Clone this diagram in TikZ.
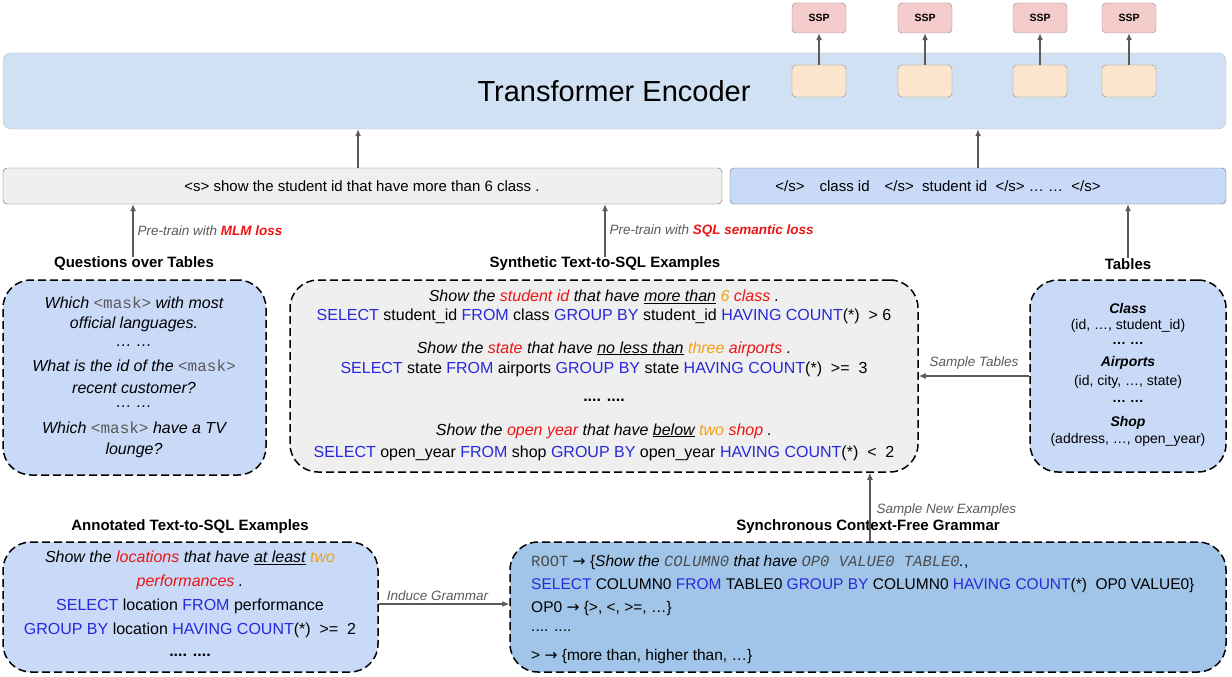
\documentclass[tikz,border=0pt]{standalone}
\usepackage{fontspec}
\setmainfont{Liberation Sans}[ItalicFont={Liberation Sans Italic},BoldFont={Liberation Sans Bold},BoldItalicFont={Liberation Sans Bold Italic}]
\setsansfont{Liberation Sans}
\setmonofont{Liberation Mono}[ItalicFont={Liberation Mono Italic}]
\usetikzlibrary{arrows.meta}
\definecolor{encblue}{RGB}{207,225,242}
\definecolor{boxblue}{RGB}{201,218,248}
\definecolor{scfg}{RGB}{160,197,232}
\definecolor{grayf}{RGB}{239,239,239}
\definecolor{orangef}{RGB}{252,229,205}
\definecolor{pinkf}{RGB}{244,204,204}
\definecolor{kwblue}{RGB}{40,40,220}
\definecolor{redt}{RGB}{235,20,20}
\definecolor{orgt}{RGB}{240,160,20}
\definecolor{edge}{RGB}{90,90,90}
\newcommand\kwd[1]{\textcolor{kwblue}{#1}}
\newcommand\rdt[1]{\textcolor{redt}{#1}}
\newcommand\ogt[1]{\textcolor{orgt}{#1}}
\newcommand\msk{{\upshape\ttfamily\color{black!65}<mask>}}
\newfontfamily\symf{DejaVu Sans}
\begin{document}
\begin{tikzpicture}[x=1pt,y=-1pt,
  every node/.style={inner sep=0pt,font=\fontsize{15}{17}\selectfont},
  dbox/.style={draw=black,line width=1.5pt,dash pattern=on 8pt off 4pt,rounded corners=28pt},
  bar/.style={draw=black!60,rounded corners=4pt},
  title/.style={font=\fontsize{15}{17}\selectfont\bfseries},
  lab/.style={font=\fontsize{13.5}{15}\selectfont\itshape},
  arr/.style={-{Latex[length=7pt,width=6pt]},edge,line width=1.2pt},
  ob/.style={draw=black!45,fill=orangef,rounded corners=4pt,minimum width=54pt,minimum height=32pt},
  sb/.style={draw=black!45,fill=pinkf,rounded corners=4pt,minimum width=54pt,minimum height=30pt,font=\fontsize{10.5}{12}\selectfont\bfseries},
  txt/.style={font=\fontsize{16}{18}\selectfont},
  itx/.style={font=\fontsize{16}{18}\selectfont\itshape}]
\useasboundingbox (0,0) rectangle (1232,677);
% encoder
\node[bar,draw=black!25,fill=encblue,minimum width=1223pt,minimum height=76pt,rounded corners=8pt] (enc) at (614.5,91) {};
\node[font=\fontsize{29}{32}\selectfont] (enct) at (614,91) {Transformer Encoder};
\foreach \i/\x in {1/819,2/925,3/1040,4/1129}{
  \node[ob] (o\i) at (\x,81) {};
  \node[sb] (s\i) at (\x,18) {SSP};
  \draw[arr] (o\i.north) -- (s\i.south);
}
% input bars
\node[bar,fill=grayf,minimum width=719pt,minimum height=36pt] (qbar) at (362.5,186) {};
\node (qbart) at (362,186) {<s> show the student id that have more than 6 class .};
\node[bar,fill=boxblue,minimum width=496pt,minimum height=36pt] (tbar) at (978,186) {};
\node (tbart) at (938,186) {</s>\quad class id\quad</s>\ \ student id\ \ </s> … …\ \ </s>};
\draw[arr] (qbar.north-|358,0) -- (enc.south-|358,0);
\draw[arr] (tbar.north-|978,0) -- (enc.south-|978,0);
% titles
\node[title] (t1) at (134,264) {Questions over Tables};
\node[title] (t2) at (605,264) {Synthetic Text-to-SQL Examples};
\node[title] (t3) at (1128,264) {Tables};
\node[title] (t4) at (190,527) {Annotated Text-to-SQL Examples};
\node[title] (t5) at (868,527) {Synchronous Context-Free Grammar};
\draw[arr] (t1.north-|133,0) -- (qbar.south-|133,0) node[lab,pos=0.5,right=4pt] {Pre-train with \textcolor{redt}{\bfseries MLM loss}};
\draw[arr] (t2.north) -- (qbar.south-|t2.north) node[lab,pos=0.5,right=4pt] {Pre-train with \textcolor{redt}{\bfseries SQL semantic loss}};
\draw[arr] (t3.north) -- (tbar.south-|t3.north);
% left box
\node[dbox,fill=boxblue,minimum width=263pt,minimum height=195pt] (qb) at (134.5,377.5) {};
\node[itx] at (134,303) {Which \msk{} with most};
\node[itx] at (134,324) {official languages.};
\node[itx] at (134,346) {… …};
\node[itx] at (134,366) {What is the id of the \msk};
\node[itx] at (134,388) {recent customer?};
\node[itx] at (134,407) {… …};
\node[itx] at (134,428) {Which \msk{} have a TV};
\node[itx] at (134,450) {lounge?};
% middle box
\node[dbox,fill=grayf,minimum width=628pt,minimum height=192pt] (sb) at (604,376) {};
\node[itx] at (604,297) {Show the \rdt{student id} that have \underline{more than} \ogt{6} \rdt{class} .};
\node[txt] at (604,316) {\kwd{SELECT} student\_id \kwd{FROM} class \kwd{GROUP BY} student\_id \kwd{HAVING COUNT}(*) \ > 6};
\node[itx] at (604,349) {Show the \rdt{state} that have \underline{no less than} \ogt{three} \rdt{airports} .};
\node[txt] at (604,369) {\kwd{SELECT} state \kwd{FROM} airports \kwd{GROUP BY} state \kwd{HAVING COUNT}(*) \ >= \ 3};
\node[txt,font=\fontsize{16}{18}\selectfont\bfseries] at (604,400) {.... ....};
\node[itx] at (604,431) {Show the \rdt{open year} that have \underline{below} \ogt{two} \rdt{shop} .};
\node[txt] at (604,453) {\kwd{SELECT} open\_year \kwd{FROM} shop \kwd{GROUP BY} open\_year \kwd{HAVING COUNT}(*) \ < \ 2};
% right box
\node[dbox,fill=boxblue,minimum width=196pt,minimum height=192pt] (tb) at (1128,376) {};
\begin{scope}[every node/.style={font=\fontsize{14}{16}\selectfont,inner sep=0pt}]
\node[font=\fontsize{14}{16}\selectfont\bfseries\itshape] at (1128,308) {Class};
\node at (1128,326) {(id, …, student\_id)};
\node[font=\fontsize{14}{16}\selectfont\bfseries] at (1128,343) {… …};
\node[font=\fontsize{14}{16}\selectfont\bfseries\itshape] at (1128,363) {Airports};
\node at (1128,382) {(id, city, …, state)};
\node[font=\fontsize{14}{16}\selectfont\bfseries] at (1128,401) {… …};
\node[font=\fontsize{14}{16}\selectfont\bfseries\itshape] at (1128,423) {Shop};
\node at (1128,440) {(address, …, open\_year)};
\end{scope}
\draw[arr] (tb.west|-0,376) -- (sb.east|-0,376) node[lab,pos=0.5,above=6pt] {Sample Tables};
% bottom-left
\node[dbox,fill=boxblue,minimum width=375pt,minimum height=130pt] (ab) at (190.5,607) {};
\node[itx] at (190,558) {Show the \rdt{locations} that have \underline{at least} \ogt{two}};
\node[itx] at (190,582) {\rdt{performances} .};
\node[txt] at (190,606) {\kwd{SELECT} location \kwd{FROM} performance};
\node[txt] at (190,630) {\kwd{GROUP BY} location \kwd{HAVING COUNT}(*) \ >= \ 2};
\node[txt,font=\fontsize{16}{18}\selectfont\bfseries] at (190,655) {.... ....};
% SCFG
\node[dbox,fill=scfg,minimum width=716pt,minimum height=130pt] (gb) at (868,607) {};
\begin{scope}[every node/.style={font=\fontsize{15.5}{18}\selectfont,inner sep=0pt,anchor=west}]
\node at (531,562) {{\ttfamily\color{black!70}ROOT} {\symf→} \{\textit{Show the {\ttfamily\color{black!70}COLUMN0} that have {\ttfamily\color{black!70}OP0 VALUE0 TABLE0}.},};
\node at (531,585) {\kwd{SELECT} COLUMN0 \kwd{FROM} TABLE0 \kwd{GROUP BY} COLUMN0 \kwd{HAVING COUNT}(*)\ \ OP0 VALUE0\}};
\node at (531,608) {OP0 {\symf→} \{>, <, >=, …\}};
\node at (531,631) {.... ....};
\node at (531,656) {> {\symf→} \{more than, higher than, …\}};
\end{scope}
\draw[arr] (gb.north-|870,0) -- (sb.south-|870,0) node[lab,pos=0.45,right=6pt] {Sample New Examples};
\draw[arr] (ab.east|-0,604) -- (gb.west|-0,604) node[lab,pos=0.45,above=3pt] {Induce Grammar};
\end{tikzpicture}
\end{document}
